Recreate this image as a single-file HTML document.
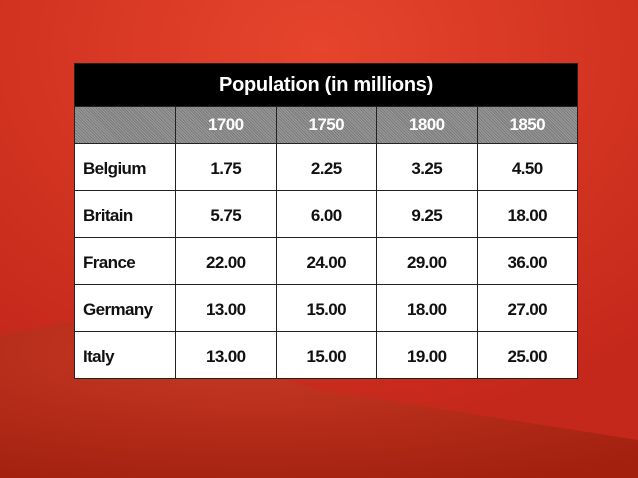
<!DOCTYPE html>
<html><head><meta charset="utf-8"><style>
html,body{margin:0;padding:0;width:638px;height:478px;overflow:hidden}
body{position:relative;font-family:"Liberation Sans",sans-serif}
#bg{position:absolute;left:0;top:0}
#tbl{position:absolute;left:74px;top:63px;width:504px;border-collapse:collapse;background:#fff;border:1px solid #333}
#tbl td{border:1px solid #222;font-weight:bold;font-size:17px;color:#111;text-align:center;padding:4px 0 0 0;letter-spacing:-0.6px;box-sizing:border-box}
#tbl td.name{text-align:left;padding-left:8px;width:101px}
.title td{background:#000;color:#fff!important;font-size:20px!important;height:43px;letter-spacing:-0.3px!important;padding:0!important}
.hdr td{background:repeating-linear-gradient(45deg,#9a9a9a 0 1px,#7a7a7a 1px 2px);color:#fff!important;height:37px;font-size:17px!important;padding:0!important}
.row td{height:47px}
</style></head><body>
<svg id="bg" width="638" height="478">
<defs>
<radialGradient id="g1" cx="0.5" cy="0.1" r="0.8"><stop offset="0" stop-color="#e6442c"/><stop offset="1" stop-color="#c4281a"/></radialGradient>
<radialGradient id="g2" cx="0.4" cy="0.2" r="0.9"><stop offset="0" stop-color="#c83a24"/><stop offset="1" stop-color="#a3200f"/></radialGradient>
</defs>
<rect width="638" height="478" fill="url(#g1)"/>
<polygon points="0,335 80,320 320,390 638,440 638,478 0,478" fill="url(#g2)"/>
</svg>
<table id="tbl">
<tr class="title"><td colspan="5">Population (in millions)</td></tr>
<tr class="hdr"><td></td><td>1700</td><td>1750</td><td>1800</td><td>1850</td></tr>
<tr class="row"><td class="name">Belgium</td><td>1.75</td><td>2.25</td><td>3.25</td><td>4.50</td></tr>
<tr class="row"><td class="name">Britain</td><td>5.75</td><td>6.00</td><td>9.25</td><td>18.00</td></tr>
<tr class="row"><td class="name">France</td><td>22.00</td><td>24.00</td><td>29.00</td><td>36.00</td></tr>
<tr class="row"><td class="name">Germany</td><td>13.00</td><td>15.00</td><td>18.00</td><td>27.00</td></tr>
<tr class="row"><td class="name">Italy</td><td>13.00</td><td>15.00</td><td>19.00</td><td>25.00</td></tr>
</table>
</body></html>
